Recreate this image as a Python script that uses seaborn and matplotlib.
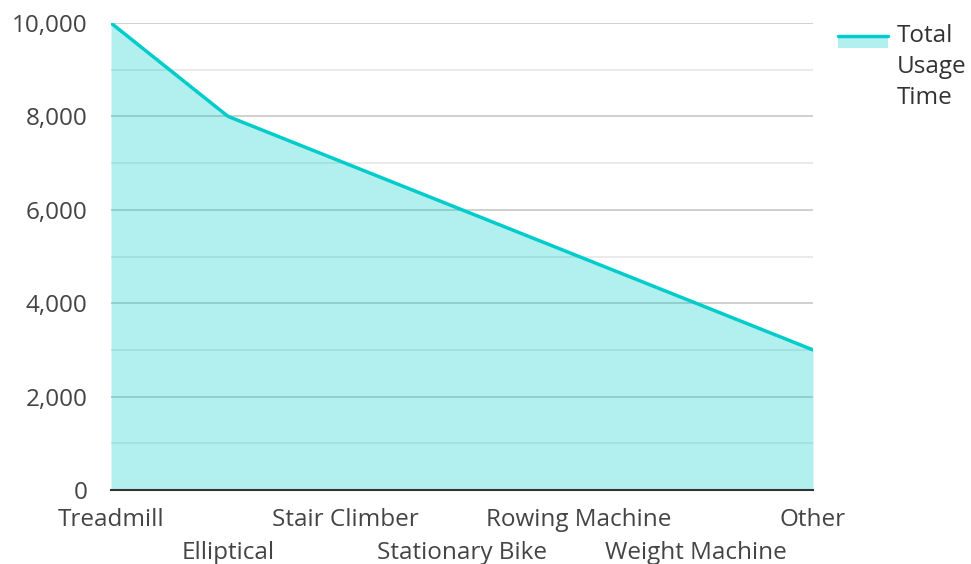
import matplotlib
matplotlib.use("Agg")
import matplotlib.pyplot as plt
import matplotlib.transforms as mtransforms
import seaborn as sns
import pandas as pd
from matplotlib.patches import Rectangle
from matplotlib.lines import Line2D
from matplotlib.ticker import FuncFormatter, MultipleLocator

categories = ["Treadmill", "Elliptical", "Stair Climber", "Stationary Bike",
              "Rowing Machine", "Weight Machine", "Other"]
usage_time = [10000, 8000, 7000, 6000, 5000, 4000, 3000]
series_name = "Total\nUsage\nTime"

df = pd.DataFrame({"equipment": categories, "usage": usage_time})
df["pos"] = range(len(df))

sns.set_theme(style="white")
plt.rcParams["font.family"] = ["Open Sans", "DejaVu Sans"]

line_color = "#00cccc"
fill_color = (0.0, 0.8, 0.8, 0.3)
W, H = 971, 564
fs = 17.5

fig = plt.figure(figsize=(W / 100, H / 100), dpi=100)
ax = fig.add_axes([111 / W, 1 - 490 / H, (813 - 111) / W, (490 - 23) / H])

# grid first, then the translucent fill over it
ax.set_axisbelow(True)
ax.yaxis.set_major_locator(MultipleLocator(2000))
ax.yaxis.set_minor_locator(MultipleLocator(1000))
ax.grid(which="major", axis="y", color="#c8c8c8", lw=1.2)
ax.grid(which="minor", axis="y", color="#e6e6e6", lw=1.2)

ax.fill_between(df["pos"], df["usage"], 0, color=fill_color, lw=0, zorder=2)
sns.lineplot(data=df, x="pos", y="usage", color=line_color, lw=2.5, ax=ax, zorder=3)

ax.set_xlim(0, len(df) - 1)
ax.set_ylim(0, 10000)
ax.yaxis.set_major_formatter(FuncFormatter(lambda v, p: f"{int(v):,}"))
ax.set_xticks(df["pos"])
ax.set_xticklabels(categories)
ax.tick_params(axis="x", length=0, pad=13, labelsize=fs, colors="#444444")
ax.tick_params(axis="y", which="both", length=0, pad=17, labelsize=fs, colors="#444444")
# stagger every second category label onto a lower row
shift = mtransforms.ScaledTranslation(0, -33 / 100, fig.dpi_scale_trans)
for i, lbl in enumerate(ax.get_xticklabels()):
    if i % 2 == 1:
        lbl.set_transform(lbl.get_transform() + shift)
ax.set_xlabel("")
ax.set_ylabel("")

for side in ["top", "right", "left"]:
    ax.spines[side].set_visible(False)
ax.spines["bottom"].set_color("#333333")
ax.spines["bottom"].set_linewidth(1.5)
ax.spines["bottom"].set_zorder(4)

# legend drawn in figure pixels: swatch with line on top, label to the right
fig.add_artist(Rectangle((838 / W, 1 - 48 / H), 50 / W, 13 / H,
                         transform=fig.transFigure, facecolor=fill_color, lw=0))
fig.add_artist(Line2D([838 / W, 888 / W], [1 - 36 / H, 1 - 36 / H],
                      transform=fig.transFigure, color=line_color, lw=2.5))
fig.text(897 / W, 1 - 24 / H, series_name, fontsize=fs, color="#333333",
         va="top", ha="left", linespacing=1.38)

fig.savefig("out.png", dpi=100)
plt.close(fig)
